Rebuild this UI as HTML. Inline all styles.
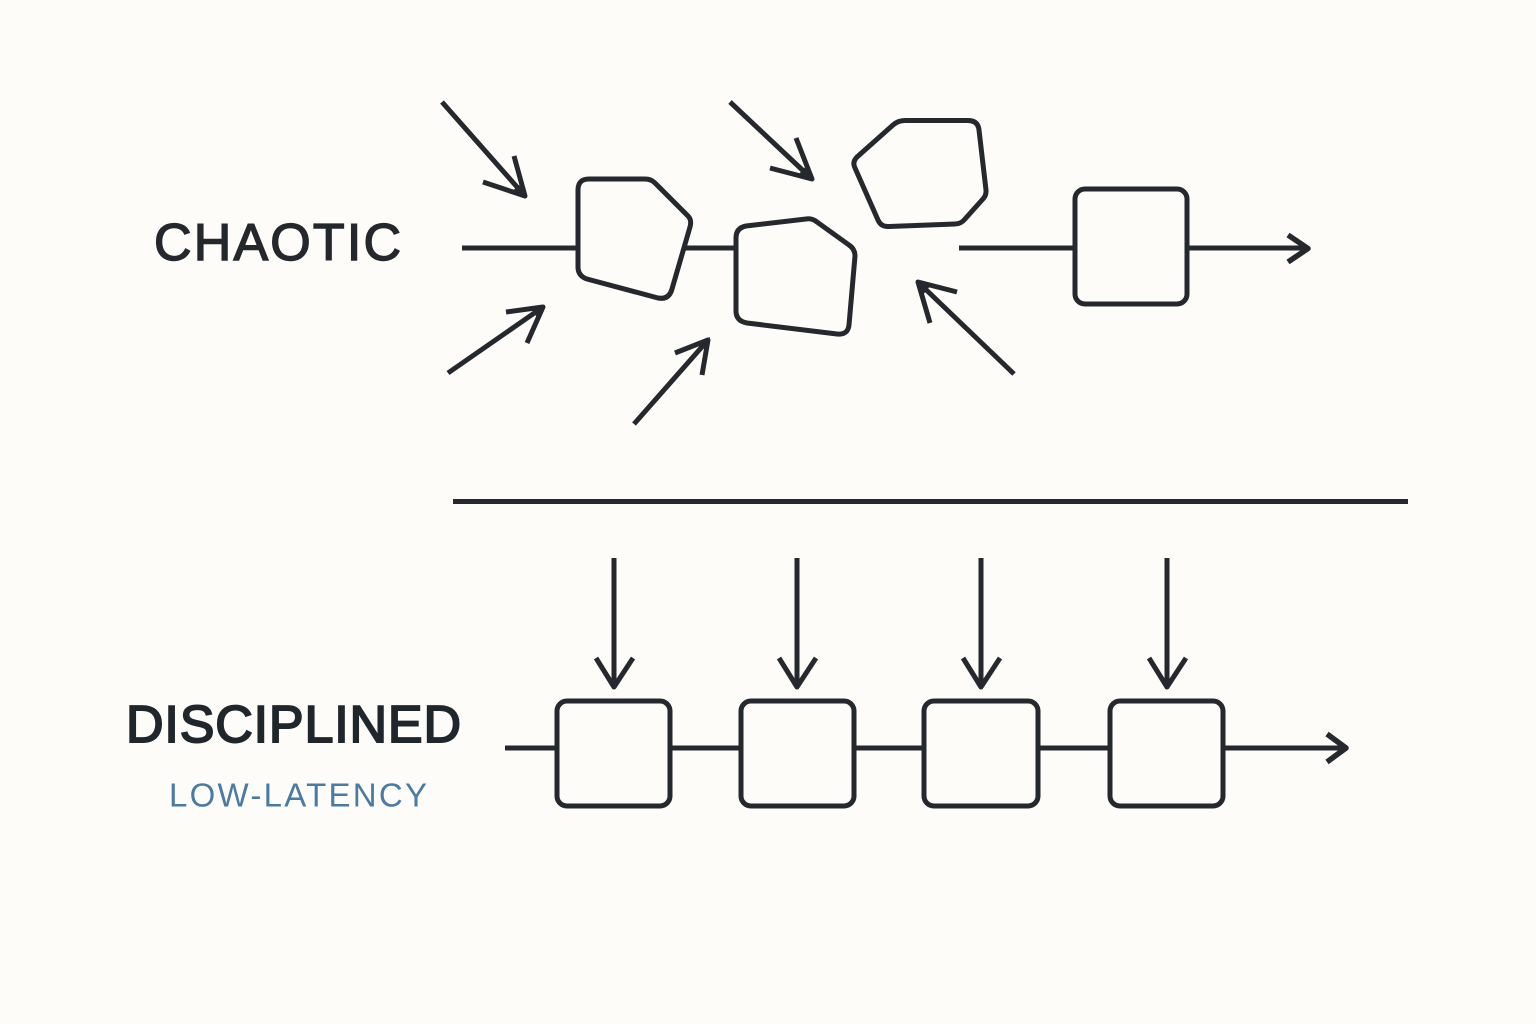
<!DOCTYPE html>
<html>
<head>
<meta charset="utf-8">
<style>
html,body{margin:0;padding:0;background:#fdfcf8;}
svg{display:block;}
text{font-family:"Liberation Sans",sans-serif;}
</style>
</head>
<body>
<svg width="1536" height="1024" viewBox="0 0 1536 1024" xmlns="http://www.w3.org/2000/svg">
<rect width="1536" height="1024" fill="#fdfcf8"/>
<text x="154" y="260" font-size="52" fill="#24282d" stroke="#24282d" stroke-width="1.4" textLength="247" lengthAdjust="spacing">CHAOTIC</text>
<text x="126" y="742" font-size="52" fill="#1f262c" stroke="#1f262c" stroke-width="1.9" textLength="335" lengthAdjust="spacing">DISCIPLINED</text>
<text x="169" y="806.5" font-size="33" fill="#4a7ba3" textLength="258" lengthAdjust="spacing">LOW-LATENCY</text>

<g fill="none" stroke="#25292e" stroke-width="5" stroke-linejoin="round">
  <!-- chaotic connectors -->
  <path d="M462 248H578M683 248H736M959 248H1075M1187 248H1307"/>
  <path d="M1288 235L1308 248.500L1288 262" stroke-width="5.500"/>
  <!-- chaotic shapes -->
  <path d="M578 190Q578 179 589 179L645 179Q651 179 655 183L688 216Q692 220 690 227L672 289Q669 300 658 298L587 279Q578 276 578 267Z"/>
  <path d="M736 238Q736 228 746 226L806 219Q812 218 817 222L849 245Q855 249 855 256L849 325Q848 335 837 334L747 323Q736 321 736 311Z"/>
  <path d="M855 168Q852 162 857 157L893 125Q898 120.500 905 120.500L968 120.500Q978 120.500 979 130L986 190Q986.500 196 982 200L965 219Q961 224 955 224L889 226.500Q881 227 878 220Z"/>
  <rect x="1075" y="189" width="112" height="115" rx="10"/>
  <!-- chaotic arrows -->
  <path d="M442 102L525 196M483 182L525 196L514 156"/>
  <path d="M730 102L812 179M770 168L812 179L796 138"/>
  <path d="M448 373L543 307M506 312L543 307L527 343"/>
  <path d="M634 424L708 340M675 353L708 340L702 375"/>
  <path d="M1014 374L918 282M957 292L918 282L930 323"/>
  <!-- divider -->
  <path d="M453 501.500H1408"/>
  <!-- disciplined connectors -->
  <path d="M505 748H557M670 748H741M854 748H924M1038 748H1110M1223 748H1345"/>
  <path d="M1327 734L1346 748L1327 762" stroke-width="5.500"/>
  <!-- disciplined shapes -->
  <rect x="557" y="701" width="113" height="105" rx="10"/>
  <rect x="741" y="701" width="113" height="105" rx="10"/>
  <rect x="924" y="701" width="114" height="105" rx="10"/>
  <rect x="1110" y="701" width="113" height="105" rx="10"/>
  <!-- disciplined arrows -->
  <path d="M614 558V687M596 658L614 687L633 658"/>
  <path d="M797 558V687M779 658L797 687L816 658"/>
  <path d="M981 558V687M963 658L981 687L1000 658"/>
  <path d="M1167 558V687M1149 658L1167 687L1186 658"/>
</g>
<g fill="#25292e" stroke="none">
  <polygon points="527,198 511,192 522,183"/>
  <polygon points="814,180 798,175 807,165"/>
  <polygon points="545,305 531,308 538,319"/>
  <polygon points="710,337 697,343 707,351"/>
  <polygon points="916,280 931,285 922,296"/>
</g>
</svg>
</body>
</html>
